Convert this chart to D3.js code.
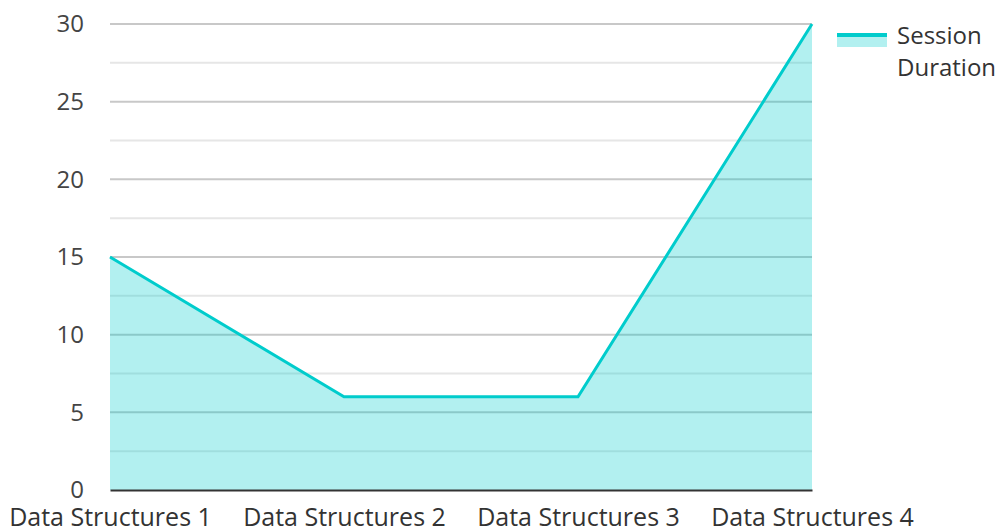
<!DOCTYPE html>
<html>
<head>
<meta charset="utf-8">
<script src="https://cdn.jsdelivr.net/npm/d3@7"></script>
<style>
body { margin: 0; background: #fff; overflow: hidden; }
text { font-family: "Open Sans", "Noto Sans", sans-serif; fill: #333; }
</style>
</head>
<body>
<script>
var categories = ['Data Structures 1', 'Data Structures 2', 'Data Structures 3', 'Data Structures 4'];
var sessionDuration = [15, 6, 6, 30];
var yTicks = [0, 5, 10, 15, 20, 25, 30];
var minorTicks = [2.5, 7.5, 12.5, 17.5, 22.5, 27.5];
var seriesName = ['Session', 'Duration'];

var width = 1002, height = 531;
var margin = {top: 24, right: 190, bottom: 41, left: 110};
var innerWidth = width - margin.left - margin.right;
var innerHeight = height - margin.top - margin.bottom;

var svg = d3.select('body').append('svg')
	.attr('width', width)
	.attr('height', height)
	.style('display', 'block');

var inner = svg.append('g')
	.attr('transform', 'translate(' + margin.left + ',' + margin.top + ')');

var xScale = d3.scalePoint().domain(categories).range([0, innerWidth]).padding(0);
var yScale = d3.scaleLinear().domain([0, 30]).range([innerHeight, 0]);

//Gridlines: minor ones lighter.
inner.selectAll('.minor').data(minorTicks).enter().append('line')
	.attr('class', 'minor')
	.attr('x1', 0).attr('x2', innerWidth)
	.attr('y1', function(d) { return yScale(d); })
	.attr('y2', function(d) { return yScale(d); })
	.style('stroke', '#e6e6e6').style('stroke-width', 2);
inner.selectAll('.major').data(yTicks.slice(1)).enter().append('line')
	.attr('class', 'major')
	.attr('x1', 0).attr('x2', innerWidth)
	.attr('y1', function(d) { return yScale(d); })
	.attr('y2', function(d) { return yScale(d); })
	.style('stroke', '#c8c8c8').style('stroke-width', 2);

//Area and line.
var area = d3.area()
	.x(function(d, i) { return xScale(categories[i]); })
	.y0(innerHeight)
	.y1(function(d) { return yScale(d); });
var line = d3.line()
	.x(function(d, i) { return xScale(categories[i]); })
	.y(function(d) { return yScale(d); });

inner.append('path').datum(sessionDuration)
	.attr('d', area)
	.style('fill', 'rgba(0, 204, 204, 0.3)');
inner.append('path').datum(sessionDuration)
	.attr('d', line)
	.style('fill', 'none')
	.style('stroke', '#00cccc')
	.style('stroke-width', 3)
	.style('stroke-linejoin', 'miter');

//Y axis labels.
var yAxis = svg.append('g')
	.attr('transform', 'translate(' + margin.left + ',' + margin.top + ')')
	.call(d3.axisLeft(yScale).tickValues(yTicks).tickSize(0).tickPadding(26));
yAxis.select('.domain').remove();
yAxis.selectAll('text').style('font-size', '24px').style('font-family', '"Open Sans", sans-serif').style('fill', '#444');

//X axis.
var xAxis = svg.append('g')
	.attr('transform', 'translate(' + margin.left + ',' + (margin.top + innerHeight) + ')')
	.call(d3.axisBottom(xScale).tickSize(0).tickPadding(18));
xAxis.select('.domain').style('stroke', '#333').style('stroke-width', 2);
xAxis.selectAll('text').style('font-size', '25px').style('font-family', '"Open Sans", sans-serif').style('fill', '#333');

//Legend.
var legend = svg.append('g').attr('transform', 'translate(837, 35)');
legend.append('rect')
	.attr('x', 0).attr('y', 0).attr('width', 50).attr('height', 12)
	.style('fill', 'rgba(0, 204, 204, 0.3)');
legend.append('line')
	.attr('x1', 0).attr('x2', 50).attr('y1', 0).attr('y2', 0)
	.style('stroke', '#00cccc').style('stroke-width', 4);
legend.selectAll('.legend-text').data(seriesName).enter().append('text')
	.attr('class', 'legend-text')
	.attr('x', 60)
	.attr('y', function(d, i) { return 9 + i * 32; })
	.style('font-size', '24px')
	.style('fill', '#333')
	.text(function(d) { return d; });
</script>
</body>
</html>
